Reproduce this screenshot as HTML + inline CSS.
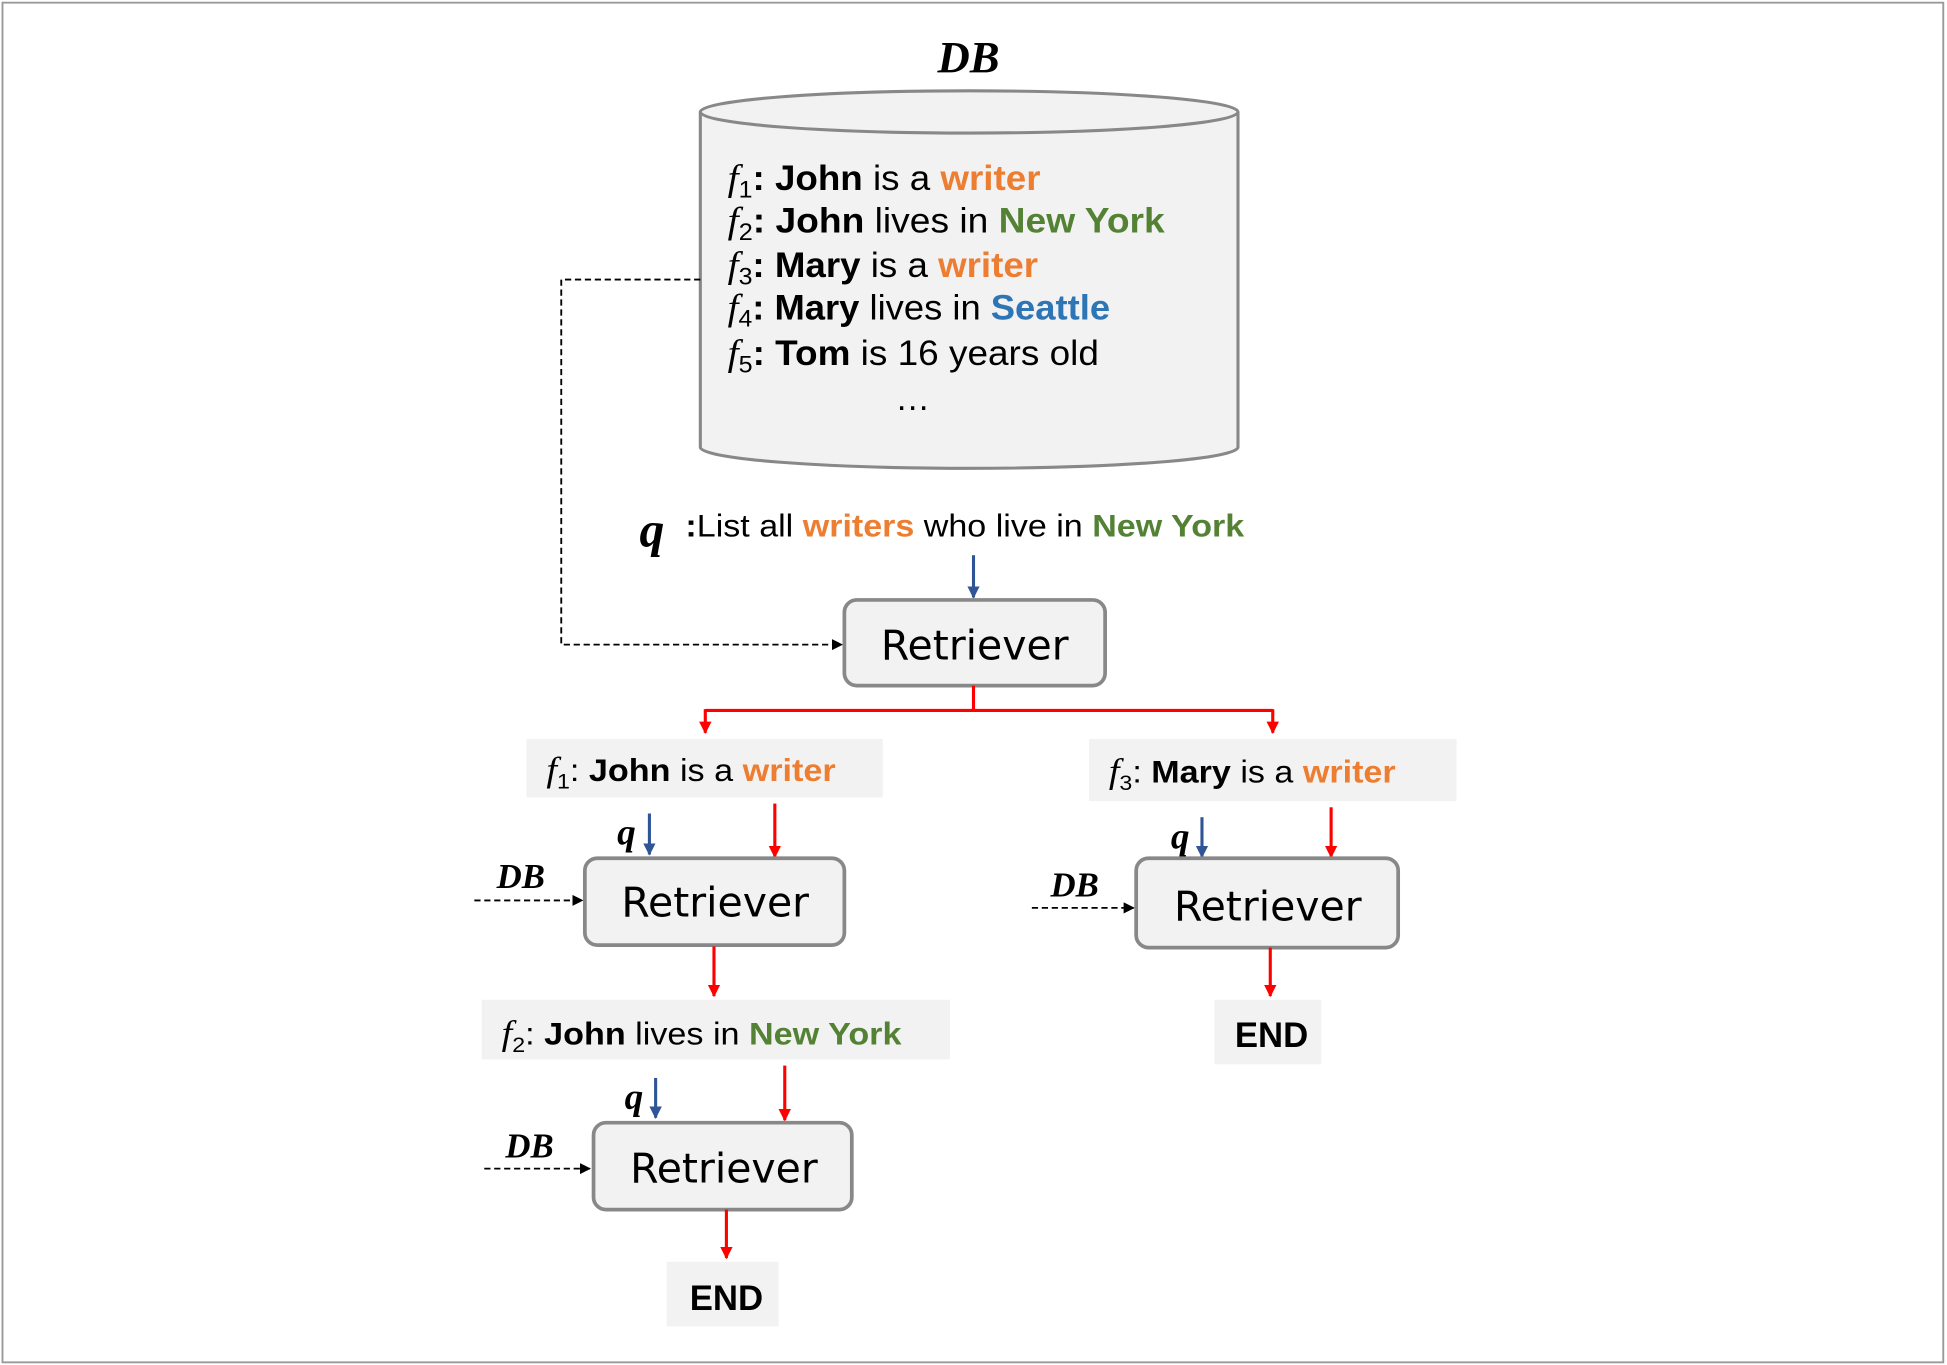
<!DOCTYPE html>
<html><head><meta charset="utf-8"><style>
html,body{margin:0;padding:0;background:#fff}
svg{display:block}
.s{font-family:"Liberation Sans",sans-serif}
.m{font-family:"Liberation Serif",serif;font-style:italic}
.mb{font-family:"Liberation Serif",serif;font-style:italic;font-weight:bold}
.o{fill:#ed7d31;font-weight:bold}
.g{fill:#548235;font-weight:bold}
.b{fill:#2e75b6;font-weight:bold}
</style></head><body>
<svg width="1947" height="1365" viewBox="0 0 1568 1099" xmlns="http://www.w3.org/2000/svg">
<defs>
<marker id="ar" viewBox="0 0 10 10" refX="9" refY="5" markerWidth="4" markerHeight="4" orient="auto"><path d="M0,0L10,5L0,10z" fill="#f00"/></marker>
<marker id="ab" viewBox="0 0 10 10" refX="9" refY="5" markerWidth="4" markerHeight="4" orient="auto"><path d="M0,0L10,5L0,10z" fill="#2f5597"/></marker>
<marker id="ak" viewBox="0 0 10 10" refX="9" refY="5" markerWidth="6" markerHeight="6" orient="auto"><path d="M0,0L10,5L0,10z" fill="#000"/></marker>
</defs>
<rect x="2" y="2" width="1563" height="1095" fill="#fff" stroke="#999" stroke-width="1.5"/>
<text x="780" y="58" text-anchor="middle" class="mb" font-size="36">DB</text>
<path d="M564,90 L564,360 A216.5,17 0 0 0 997,360 L997,90" fill="#f2f2f2" stroke="#888" stroke-width="2.5"/>
<ellipse cx="780.5" cy="90" rx="216.5" ry="17" fill="#f2f2f2" stroke="#888" stroke-width="2.5"/>
<g class="s" font-size="28">
<text x="586" y="153" textLength="252" lengthAdjust="spacingAndGlyphs"><tspan class="m" font-size="30">f</tspan><tspan font-size="19" dy="6">1</tspan><tspan dy="-6" font-weight="bold">: John</tspan> is a <tspan class="o">writer</tspan></text>
<text x="586" y="187" textLength="352" lengthAdjust="spacingAndGlyphs"><tspan class="m" font-size="30">f</tspan><tspan font-size="19" dy="6">2</tspan><tspan dy="-6" font-weight="bold">: John</tspan> lives in <tspan class="g">New York</tspan></text>
<text x="586" y="223" textLength="250" lengthAdjust="spacingAndGlyphs"><tspan class="m" font-size="30">f</tspan><tspan font-size="19" dy="6">3</tspan><tspan dy="-6" font-weight="bold">: Mary</tspan> is a <tspan class="o">writer</tspan></text>
<text x="586" y="257" textLength="308" lengthAdjust="spacingAndGlyphs"><tspan class="m" font-size="30">f</tspan><tspan font-size="19" dy="6">4</tspan><tspan dy="-6" font-weight="bold">: Mary</tspan> lives in <tspan class="b">Seattle</tspan></text>
<text x="586" y="294" textLength="299" lengthAdjust="spacingAndGlyphs"><tspan class="m" font-size="30">f</tspan><tspan font-size="19" dy="6">5</tspan><tspan dy="-6" font-weight="bold">: Tom</tspan> is 16 years old</text>
<text x="735" y="330" text-anchor="middle">…</text>
</g>
<path d="M564,225 L452,225 L452,519 L678,519" fill="none" stroke="#000" stroke-width="1.5" stroke-dasharray="5,3" marker-end="url(#ak)"/>
<text x="515" y="440" class="mb" font-size="40">q</text>
<text x="552" y="432" class="s" font-size="25" textLength="450" lengthAdjust="spacingAndGlyphs"><tspan font-weight="bold">:</tspan>List all <tspan class="o">writers</tspan> who live in <tspan class="g">New York</tspan></text>
<line x1="784" y1="447" x2="784" y2="481" stroke="#2f5597" stroke-width="2.5" marker-end="url(#ab)"/>
<rect x="680" y="483" width="210" height="69" rx="10" fill="#f2f2f2" stroke="#888" stroke-width="3"/>
<text x="785" y="531" text-anchor="middle" font-family="DejaVu Sans, sans-serif" font-size="33">Retriever</text>
<path d="M784,552 L784,572 M568,572 L1025,572" stroke="#f00" stroke-width="2.5" fill="none"/>
<line x1="568" y1="571" x2="568" y2="590" stroke="#f00" stroke-width="2.5" marker-end="url(#ar)"/>
<line x1="1025" y1="571" x2="1025" y2="590" stroke="#f00" stroke-width="2.5" marker-end="url(#ar)"/>
<rect x="424" y="595" width="287" height="47" fill="#f2f2f2"/>
<text x="440" y="629" class="s" font-size="25" textLength="233" lengthAdjust="spacingAndGlyphs"><tspan class="m" font-size="28">f</tspan><tspan font-size="17" dy="6">1</tspan><tspan dy="-6">: </tspan><tspan font-weight="bold">John</tspan> is a <tspan class="o">writer</tspan></text>
<rect x="877" y="595" width="296" height="50" fill="#f2f2f2"/>
<text x="893" y="630" class="s" font-size="25" textLength="231" lengthAdjust="spacingAndGlyphs"><tspan class="m" font-size="28">f</tspan><tspan font-size="17" dy="6">3</tspan><tspan dy="-6">: </tspan><tspan font-weight="bold">Mary</tspan> is a <tspan class="o">writer</tspan></text>
<text x="497" y="680" class="mb" font-size="30">q</text>
<line x1="523" y1="655" x2="523" y2="688" stroke="#2f5597" stroke-width="2.5" marker-end="url(#ab)"/>
<line x1="624" y1="647" x2="624" y2="690" stroke="#f00" stroke-width="2.5" marker-end="url(#ar)"/>
<text x="400" y="715" class="mb" font-size="28">DB</text>
<line x1="382" y1="725" x2="469" y2="725" stroke="#000" stroke-width="1.5" stroke-dasharray="5,3" marker-end="url(#ak)"/>
<rect x="471" y="691" width="209" height="70" rx="10" fill="#f2f2f2" stroke="#888" stroke-width="3"/>
<text x="576" y="738" text-anchor="middle" font-family="DejaVu Sans, sans-serif" font-size="33">Retriever</text>
<text x="943" y="683" class="mb" font-size="30">q</text>
<line x1="968" y1="658" x2="968" y2="690" stroke="#2f5597" stroke-width="2.5" marker-end="url(#ab)"/>
<line x1="1072" y1="650" x2="1072" y2="690" stroke="#f00" stroke-width="2.5" marker-end="url(#ar)"/>
<text x="846" y="722" class="mb" font-size="28">DB</text>
<line x1="831" y1="731" x2="913" y2="731" stroke="#000" stroke-width="1.5" stroke-dasharray="5,3" marker-end="url(#ak)"/>
<rect x="915" y="691" width="211" height="72" rx="10" fill="#f2f2f2" stroke="#888" stroke-width="3"/>
<text x="1021" y="741" text-anchor="middle" font-family="DejaVu Sans, sans-serif" font-size="33">Retriever</text>
<line x1="1023" y1="763" x2="1023" y2="802" stroke="#f00" stroke-width="2.5" marker-end="url(#ar)"/>
<rect x="978" y="805" width="86" height="52" fill="#f2f2f2"/>
<text x="1024" y="843" text-anchor="middle" class="s" font-weight="bold" font-size="28">END</text>
<line x1="575" y1="762" x2="575" y2="802" stroke="#f00" stroke-width="2.5" marker-end="url(#ar)"/>
<rect x="388" y="805" width="377" height="48" fill="#f2f2f2"/>
<text x="404" y="841" class="s" font-size="25" textLength="322" lengthAdjust="spacingAndGlyphs"><tspan class="m" font-size="28">f</tspan><tspan font-size="17" dy="6">2</tspan><tspan dy="-6">: </tspan><tspan font-weight="bold">John</tspan> lives in <tspan class="g">New York</tspan></text>
<text x="503" y="893" class="mb" font-size="30">q</text>
<line x1="528" y1="868" x2="528" y2="900" stroke="#2f5597" stroke-width="2.5" marker-end="url(#ab)"/>
<line x1="632" y1="858" x2="632" y2="902" stroke="#f00" stroke-width="2.5" marker-end="url(#ar)"/>
<text x="407" y="932" class="mb" font-size="28">DB</text>
<line x1="390" y1="941" x2="475" y2="941" stroke="#000" stroke-width="1.5" stroke-dasharray="5,3" marker-end="url(#ak)"/>
<rect x="478" y="904" width="208" height="70" rx="10" fill="#f2f2f2" stroke="#888" stroke-width="3"/>
<text x="583" y="952" text-anchor="middle" font-family="DejaVu Sans, sans-serif" font-size="33">Retriever</text>
<line x1="585" y1="974" x2="585" y2="1013" stroke="#f00" stroke-width="2.5" marker-end="url(#ar)"/>
<rect x="537" y="1016" width="90" height="52" fill="#f2f2f2"/>
<text x="585" y="1055" text-anchor="middle" class="s" font-weight="bold" font-size="28">END</text>
</svg>
</body></html>
